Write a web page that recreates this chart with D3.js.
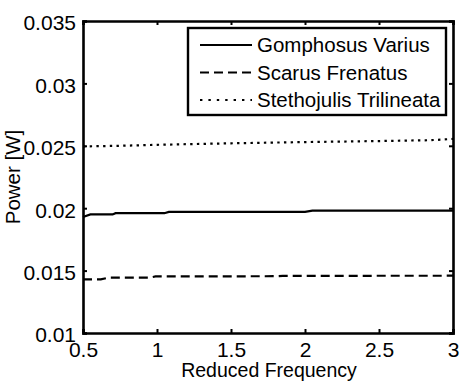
<!DOCTYPE html>
<html>
<head>
<meta charset="utf-8">
<script src="https://cdn.jsdelivr.net/npm/d3@7"></script>
<style>
  body { margin: 0; background: #fff; }
  text { font-family: "Liberation Sans", Arial, Helvetica, sans-serif; fill: #000; }
</style>
</head>
<body>
<svg id="chart" width="474" height="383"></svg>
<script>
// values
var seriesNames = ['Gomphosus Varius', 'Scarus Frenatus', 'Stethojulis Trilineata'];
var gomphosusX = [0.5, 0.55, 0.7, 0.72, 1.05, 1.08, 2.0, 2.05, 3.0];
var gomphosusY = [0.0193, 0.0195, 0.0195, 0.0196, 0.0196, 0.0197, 0.0197, 0.0198, 0.0198];
var scarusX = [0.5, 0.62, 0.67, 0.95, 0.99, 1.8, 1.85, 3.0];
var scarusY = [0.0143, 0.0143, 0.01443, 0.01444, 0.01453, 0.01455, 0.01458, 0.01459];
var stethoX = [0.5, 0.75, 1.0, 1.5, 2.0, 2.5, 2.85, 3.0];
var stethoY = [0.02495, 0.0250, 0.02508, 0.0252, 0.0253, 0.02538, 0.02545, 0.02555];
var xTicks = [0.5, 1, 1.5, 2, 2.5, 3];
var yTicks = [0.01, 0.015, 0.02, 0.025, 0.03, 0.035];
var dashes = [null, '9,5', '2.4,4.3'];

(function () {
  'use strict';

  var svg = d3.select('#chart');
  var margin = {top: 21, right: 21, bottom: 50, left: 83};
  var width = 474, height = 383;

  var x = d3.scaleLinear().domain([0.5, 3]).range([margin.left, width - margin.right]);
  var y = d3.scaleLinear().domain([0.01, 0.035]).range([height - margin.bottom, margin.top]);

  var series = [
    {name: seriesNames[0], xs: gomphosusX, ys: gomphosusY, dash: dashes[0]},
    {name: seriesNames[1], xs: scarusX, ys: scarusY, dash: dashes[1]},
    {name: seriesNames[2], xs: stethoX, ys: stethoY, dash: dashes[2]}
  ];

  var line = d3.line().x(d => x(d[0])).y(d => y(d[1]));

  series.forEach(s => {
    svg.append('path')
      .datum(d3.zip(s.xs, s.ys))
      .attr('d', line)
      .attr('fill', 'none')
      .attr('stroke', '#000')
      .attr('stroke-width', 2.2)
      .attr('stroke-dasharray', s.dash);
  });

  // axes: ticks inward on all four sides
  var fmt = d => String(+d.toFixed(4));
  var axBottom = svg.append('g')
    .attr('transform', `translate(0,${y(0.01)})`)
    .call(d3.axisBottom(x).tickValues(xTicks).tickSize(-4).tickPadding(9).tickFormat(d3.format('')));
  var axTop = svg.append('g')
    .attr('transform', `translate(0,${y(0.035)})`)
    .call(d3.axisTop(x).tickValues(xTicks).tickSize(-4).tickFormat(''));
  var axLeft = svg.append('g')
    .attr('transform', `translate(${x(0.5)},0)`)
    .call(d3.axisLeft(y).tickValues(yTicks).tickSize(-4).tickPadding(7).tickFormat(fmt));
  var axRight = svg.append('g')
    .attr('transform', `translate(${x(3)},0)`)
    .call(d3.axisRight(y).tickValues(yTicks).tickSize(-4).tickFormat(''));

  [axBottom, axTop, axLeft, axRight].forEach(g => {
    g.select('.domain').attr('stroke', '#000').attr('stroke-width', 2.6);
    g.selectAll('.tick line').attr('stroke', '#000').attr('stroke-width', 2);
    g.selectAll('.tick text')
      .style('font-family', '"Liberation Sans", Arial, sans-serif')
      .style('font-size', '21px')
      .attr('fill', '#000');
  });
  axBottom.selectAll('.tick text').attr('dy', '0.71em');
  axLeft.selectAll('.tick text').attr('dy', '0.42em');

  // axis titles
  svg.append('text')
    .attr('x', (x(0.5) + x(3)) / 2 + 1)
    .attr('y', 377)
    .attr('text-anchor', 'middle')
    .style('font-size', '19.5px')
    .text('Reduced Frequency');

  svg.append('text')
    .attr('transform', `translate(20,${(y(0.01) + y(0.035)) / 2}) rotate(-90)`)
    .attr('text-anchor', 'middle')
    .style('font-size', '20.5px')
    .text('Power [W]');

  // legend
  var legend = svg.append('g');
  legend.append('rect')
    .attr('x', 188).attr('y', 28)
    .attr('width', 258).attr('height', 87)
    .attr('fill', '#fff')
    .attr('stroke', '#000')
    .attr('stroke-width', 2.4);

  series.forEach((s, i) => {
    var ly = 45 + i * 27.5;
    legend.append('line')
      .attr('x1', 200).attr('x2', 252)
      .attr('y1', ly).attr('y2', ly)
      .attr('stroke', '#000')
      .attr('stroke-width', 2)
      .attr('stroke-dasharray', i === 2 ? '2.4,6' : s.dash);
    legend.append('text')
      .attr('x', 257).attr('y', ly)
      .attr('dy', '0.36em')
      .style('font-size', '20.5px')
      .text(s.name);
  });
}());
</script>
</body>
</html>
